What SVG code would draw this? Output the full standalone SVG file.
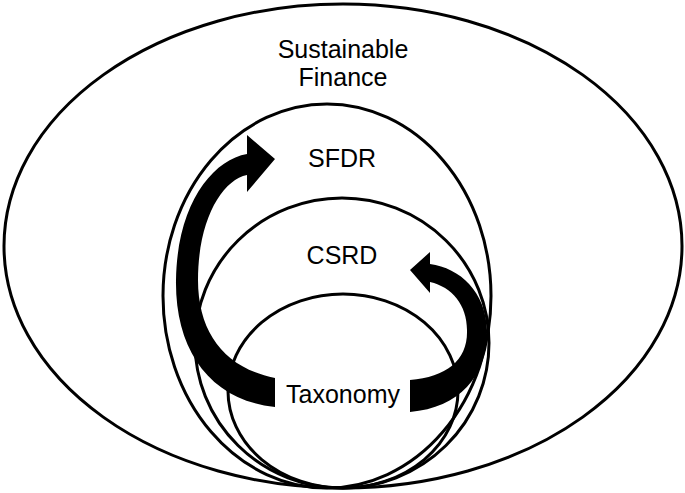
<svg xmlns="http://www.w3.org/2000/svg" width="685" height="493" viewBox="0 0 685 493">
<style>
.ring{fill:none;stroke:#000;stroke-width:3}
.lbl{font-family:"Liberation Sans",Arial,sans-serif;font-size:25px;fill:#000;text-anchor:middle}
.arr{fill:#000}
</style>
<rect width="685" height="493" fill="#fff"/>
<g id="sustainable-finance"><ellipse class="ring" cx="343" cy="246" rx="339" ry="242"/>
<text class="lbl" x="343" y="58">Sustainable</text><text class="lbl" x="343" y="86">Finance</text></g>
<g id="sfdr"><ellipse class="ring" cx="327" cy="296" rx="164" ry="192"/><text class="lbl" x="342" y="167">SFDR</text></g>
<g id="csrd"><ellipse class="ring" cx="342" cy="343" rx="147" ry="145"/><text class="lbl" x="342" y="264">CSRD</text></g>
<g id="taxonomy"><ellipse class="ring" cx="343" cy="391" rx="115" ry="97"/><text class="lbl" x="343" y="403">Taxonomy</text></g>
<g id="connectors">
<path class="arr" d="M275,378 L275,407 C210,400 175,350 176,280 C177,205 212,160 247,154 L247,135 L275,159 L247,192 L247,175 C222,180 198,220 198,280 C198,333 225,368 275,378 Z"/>
<path class="arr" d="M410,380 L410,412 C460,408 488,375 487,330 C486,292 460,268 430,264 L430,252 L410,270 L430,293 L430,282 C452,287 467,305 467,330 C468,360 447,377 410,380 Z"/>
</g>
</svg>
